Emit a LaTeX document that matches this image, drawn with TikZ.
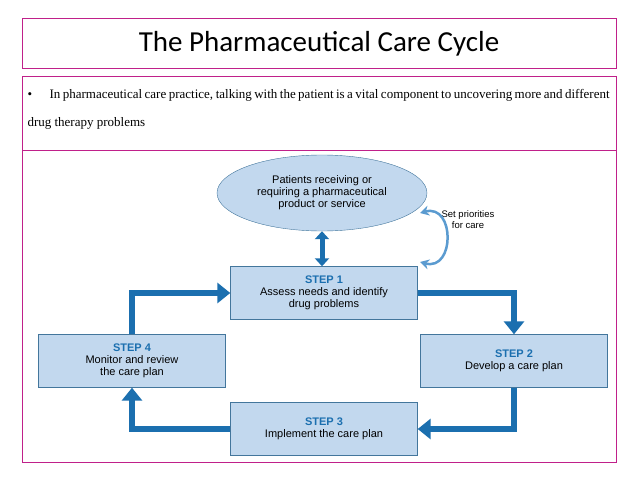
\documentclass[tikz,border=0pt]{standalone}
\usepackage{fontspec}
\setmainfont{Liberation Serif}
\newfontfamily\titlefont{Carlito}
\newfontfamily\diagfont{Liberation Sans}
\usetikzlibrary{positioning, shapes, arrows.meta}
\definecolor{boxblue}{HTML}{C2D8EE}
\definecolor{flowblue}{HTML}{1B6FAF}
\definecolor{lightarrow}{HTML}{5B9BD0}
\definecolor{frame}{HTML}{C0208A}
\begin{document}
\begin{tikzpicture}[
    x=1pt, y=-1pt,
    stepbox/.style={draw=flowblue!60!gray, fill=boxblue, rectangle, minimum width=187pt, minimum height=53pt, align=center, font=\diagfont\fontsize{11}{12}\selectfont},
    flow/.style={-{Triangle[length=13pt, width=20pt]}, line width=6pt, flowblue},
    note/.style={font=\diagfont\fontsize{9.5}{11}\selectfont, align=center}
]
\useasboundingbox (0,0) rectangle (638,479);

% Frames
\draw[frame, line width=0.6pt] (22,18) rectangle (616,68);
\node[font=\titlefont\fontsize{29}{32}\selectfont] (title) at (319,44) {The Pharmaceutical Care Cycle};
\draw[frame, line width=0.6pt] (22,76) rectangle (616,462);
\draw[frame, line width=0.6pt] (22,150) -- (616,150);
\node[anchor=north west, text width=582pt, align=justify, font=\fontsize{13}{28}\selectfont] (bullet) at (24,86)
  {\makebox[22pt][l]{\textbullet}In pharmaceutical care practice, talking with the patient is a vital component to uncovering more and different drug therapy problems};

% Nodes
\node[ellipse, draw=flowblue!60!gray, fill=boxblue, minimum width=210pt, minimum height=76pt, align=center, font=\diagfont\fontsize{11}{12}\selectfont] (patients) at (322,193)
  {Patients receiving or\\requiring a pharmaceutical\\product or service};
\node[stepbox] (step1) at (324,293) {\textcolor{flowblue}{\textbf{STEP 1}}\\Assess needs and identify\\drug problems};
\node[stepbox] (step2) at (514,361) {\textcolor{flowblue}{\textbf{STEP 2}}\\Develop a care plan};
\node[stepbox] (step3) at (324,429) {\textcolor{flowblue}{\textbf{STEP 3}}\\Implement the care plan};
\node[stepbox] (step4) at (132,361) {\textcolor{flowblue}{\textbf{STEP 4}}\\Monitor and review\\the care plan};
\node[note] (care) at (468,220) {Set priorities\\for care};
\coordinate (loopa) at (420,213);
\coordinate (loopb) at (420,262);

% Arrows
\draw[flow] (step1.east) -| (step2.north);
\draw[flow] (step2.south) |- (step3.east);
\draw[flow] (step3.west) -| (step4.south);
\draw[flow] (step4.north) |- (step1.west);
\draw[{Triangle[length=8pt, width=14pt]}-{Triangle[length=8pt, width=14pt]}, line width=5pt, flowblue] (patients.south) -- (patients.south |- step1.north);
\draw[{Stealth[length=9pt, width=10pt]}-{Stealth[length=9pt, width=10pt]}, line width=2.5pt, lightarrow] (loopa) to[out=15, in=-15, looseness=1.9] (loopb);
\end{tikzpicture}
\end{document}
